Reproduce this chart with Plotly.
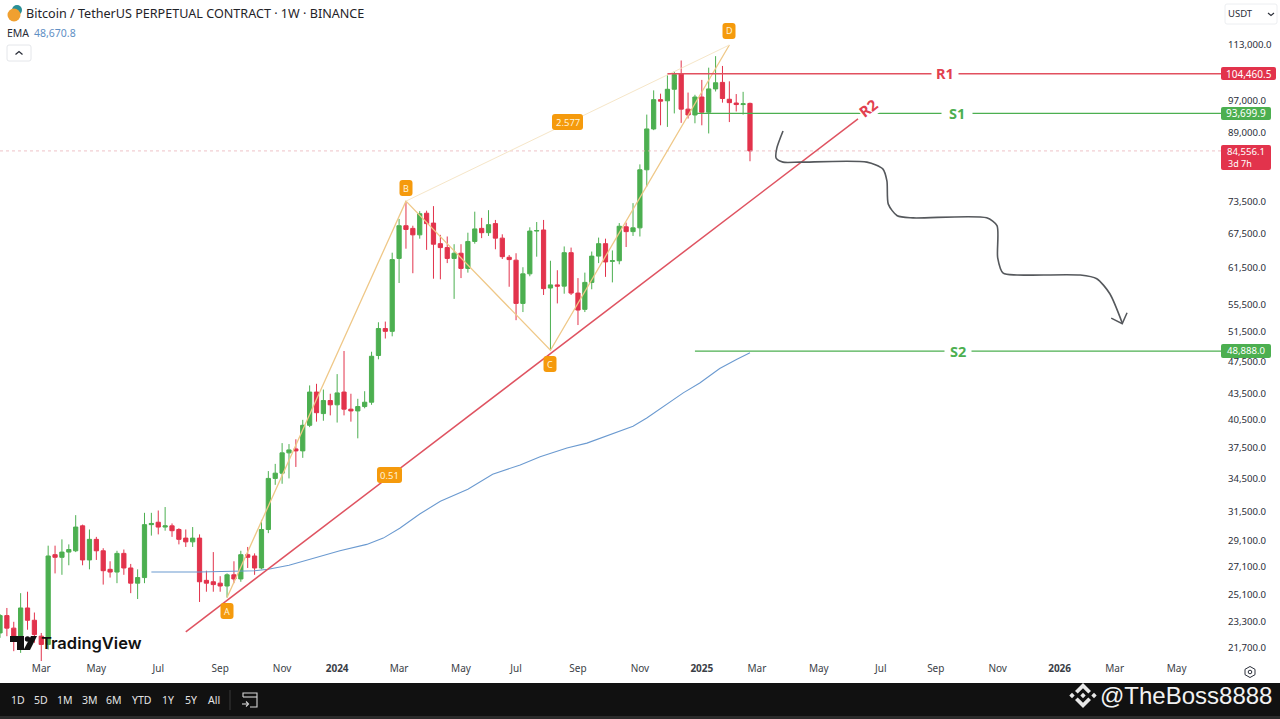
"""Weekly BTCUSDT perpetual chart with harmonic pattern, support/resistance and projected path."""

import math

import pandas as pd
import plotly.graph_objects as go

WIDTH, HEIGHT = 1280, 719
PLOT_W, PLOT_H = 1222, 660
PLOT_TOP = 1
FONT = "Noto Sans"
GREEN = "#4caf50"
RED = "#e2334c"
ORANGE = "#f59a0c"

LAST_WEEK = pd.Timestamp("2025-02-24")

# oldest week first, last entry is the running week
opens = [
    22600, 23700, 22900, 22100, 24200, 23400, 22400, 21900, 28000, 27800,
    28200, 28300, 30300, 27600, 29200, 28300, 26900, 26700, 28100, 27000,
    25900, 26300, 30400, 30600, 30200, 30300, 30000, 29300, 29000, 29300,
    26100, 26000, 25900, 25700, 26500, 26200, 28000, 27900, 27000, 30000,
    34500, 35000, 37000, 37400, 37200, 39900, 43700, 41200, 42700, 42200,
    43700, 41700, 41500, 42000, 42500, 48300, 52000, 51600, 63000, 68900,
    68400, 67200, 71300, 69400, 65600, 64900, 63000, 63900, 61300, 66000,
    68400, 67600, 69300, 66600, 63200, 62700, 55700, 60400, 67900, 68100,
    58100, 58600, 58400, 64000, 57300, 54800, 59000, 63400, 65600, 62500,
    62600, 68700, 67800, 68500, 80300, 89800, 97300, 97000, 100100, 104400,
    94800, 93300, 98000, 94000, 100200, 102000, 97400, 96400, 96000, 96300,
]
highs = [
    23800, 24200, 23300, 25200, 25300, 23900, 22600, 28700, 28700, 29200,
    28800, 31200, 30400, 30000, 29400, 28500, 27500, 28300, 28400, 27300,
    26900, 31400, 31400, 31600, 31900, 30500, 30100, 30000, 30200, 29600,
    26800, 28200, 26400, 26600, 27500, 28300, 28600, 28100, 30800, 35200,
    35900, 38000, 37900, 38400, 40500, 44500, 44700, 44000, 43500, 45900,
    48900, 43500, 42900, 43800, 48800, 52900, 53000, 64000, 70200, 73700,
    68900, 71700, 71800, 72700, 67200, 66900, 65500, 65500, 67600, 71600,
    70400, 71900, 70000, 67300, 63600, 63900, 61500, 68600, 69600, 70000,
    62600, 61000, 65100, 64900, 59700, 60600, 64200, 66700, 66500, 64400,
    69400, 69500, 73300, 81500, 93400, 99800, 98900, 104000, 105200, 108300,
    99200, 98600, 102700, 106200, 109600, 106700, 102300, 98800, 99400, 96500,
]
lows = [
    22300, 22400, 21500, 21400, 22800, 22000, 19600, 21600, 26600, 26500,
    27200, 28200, 27200, 26900, 27600, 25800, 26300, 25900, 26500, 25200,
    24800, 25900, 29500, 29600, 29900, 29400, 28800, 28600, 28600, 24600,
    25300, 25300, 25300, 24900, 25900, 26000, 27000, 26500, 26900, 29700,
    33900, 34000, 34500, 35600, 36500, 39700, 40300, 40400, 41000, 40200,
    41000, 40300, 38500, 41800, 42200, 47800, 50600, 50900, 58900, 64700,
    60500, 66500, 64500, 59600, 59500, 62200, 56400, 59700, 60600, 65600,
    66600, 67000, 64600, 62900, 58300, 53200, 54400, 60000, 63300, 57000,
    49000, 55700, 57200, 57000, 52500, 54400, 57900, 62200, 59900, 59000,
    62000, 65000, 67000, 66900, 76700, 89500, 90700, 90300, 93700, 91300,
    92400, 91200, 90700, 88700, 99500, 96500, 91500, 94200, 93400, 82200,
]
closes = [
    23700, 22900, 22100, 24200, 23400, 22500, 21900, 27900, 27800, 28200,
    28400, 30200, 27600, 29200, 28300, 26800, 26700, 28100, 27000, 25900,
    26300, 30400, 30500, 30200, 30300, 29900, 29200, 29000, 29300, 26000,
    25900, 25800, 25700, 26500, 26200, 28000, 27800, 27000, 30000, 34500,
    35000, 37000, 37300, 37200, 39900, 43700, 41300, 42700, 42200, 43600,
    41700, 41500, 42000, 42500, 48200, 52000, 51600, 62800, 68900, 68200,
    67200, 71200, 69300, 65500, 64900, 63000, 63900, 61300, 66000, 68300,
    67600, 69100, 66600, 63300, 62800, 55700, 60400, 67900, 68000, 58000,
    58600, 58400, 64000, 57300, 54700, 59000, 63400, 65600, 62400, 62600,
    68800, 67800, 68500, 80300, 89800, 97300, 96900, 100100, 104200, 94800,
    93300, 98000, 94000, 100200, 101900, 97600, 96500, 96000, 96200, 84556.1,
]

ema_weeks_ago = [
    87, 80, 72, 70, 67, 63.5, 59.6, 55.7, 53.3, 50.9, 48, 45, 41, 37.4,
    33.4, 30.5, 26.6, 23.7, 20.8, 17, 15, 12, 9.7, 7.3, 4.4, 1.9, 0,
]
ema_values = [
    26700, 26700, 26800, 26900, 27200, 27700, 28300, 28800, 29300, 30100,
    31300, 32400, 33500, 34900, 35800, 36600, 37500, 38000, 38800, 39800,
    40700, 42300, 43600, 44800, 46600, 47800, 48670.8,
]

# A, B, C, D swing points of the pattern
pattern_weeks_ago = [76, 50, 29, 3]
pattern_prices = [24900, 73700, 49000, 113000]
pattern_names = ["A", "B", "C", "D"]

r2_weeks_ago = [82, -15.7]
r2_prices = [22670, 92300]

r1_price = 104460.5
s1_price = 93699.9
s2_price = 48888.0
last_price = 84556.1

arrow_weeks_ago = [
    -4.8, -3.9, -3.8, -4.8, -7.3, -17, -19.3, -19.9, -20.1, -21.4,
    -23.7, -34.4, -35.9, -36, -36.8, -38.8, -48, -50.4, -52.3, -54.1,
]
arrow_prices = [
    89300, 85200, 82900, 82000, 82000, 82000, 80500, 77900, 73100, 70800,
    70400, 70400, 68900, 63100, 60500, 60200, 60200, 59600, 57200, 52800,
]
arrow_head_weeks_ago = [-52.5, -54.1, -54.8]
arrow_head_prices = [53500, 52700, 54300]

price_ticks = [
    113000, 97000, 89000, 73500, 67500, 61500, 55500, 51500, 47500, 43500,
    40500, 37500, 34500, 31500, 29100, 27100, 25100, 23300, 21700,
]
month_ticks = [
    "2023-03-06", "2023-05-01", "2023-07-03", "2023-09-04", "2023-11-06",
    "2024-01-01", "2024-03-04", "2024-05-06", "2024-07-01", "2024-09-02",
    "2024-11-04", "2025-01-06", "2025-03-03", "2025-05-05", "2025-07-07",
    "2025-09-01", "2025-11-03", "2026-01-05", "2026-03-02", "2026-05-04",
]
month_labels = [
    "Mar", "May", "Jul", "Sep", "Nov", "<b>2024</b>", "Mar", "May", "Jul", "Sep",
    "Nov", "<b>2025</b>", "Mar", "May", "Jul", "Sep", "Nov", "<b>2026</b>", "Mar", "May",
]
range_buttons = ["1D", "5D", "1M", "3M", "6M", "YTD", "1Y", "5Y", "All"]
range_button_x = [18, 41, 65, 90, 114, 142, 168, 191, 214]


def ago(weeks_back):
    return LAST_WEEK - pd.Timedelta(days=7 * weeks_back)


def xp(x):
    return x / PLOT_W


def yp(y):
    return (PLOT_H + PLOT_TOP - y) / PLOT_H


weeks = [ago(k) for k in range(len(opens) - 1, -1, -1)]

fig = go.Figure()

# candles as precomputed boxes so the body width can be set
BODY_MS = 4.3 * 86400000
for rising, color in [(True, GREEN), (False, RED)]:
    rows = [i for i in range(len(opens)) if (closes[i] >= opens[i]) == rising]
    fig.add_trace(go.Box(
        x=[weeks[i] for i in rows],
        q1=[min(opens[i], closes[i]) for i in rows],
        median=[closes[i] for i in rows],
        q3=[max(opens[i], closes[i]) for i in rows],
        lowerfence=[lows[i] for i in rows],
        upperfence=[highs[i] for i in rows],
        width=BODY_MS, whiskerwidth=0,
        line=dict(color=color, width=1), fillcolor=color,
    ))


def add_line(x, y, color, width, dash="solid", shape="linear", smoothing=1.0):
    fig.add_trace(go.Scatter(
        x=x, y=y, mode="lines",
        line=dict(color=color, width=width, dash=dash, shape=shape, smoothing=smoothing),
    ))


add_line([ago(k) for k in ema_weeks_ago], ema_values, "#6b9ad0", 1.1)
add_line([weeks[0], ago(-68.6)], [last_price, last_price], "#eab4ba", 0.8, dash="dot")

add_line([ago(k) for k in pattern_weeks_ago], pattern_prices, "#efc888", 1.3)
add_line([ago(pattern_weeks_ago[1]), ago(pattern_weeks_ago[3])],
         [pattern_prices[1], pattern_prices[3]], "#f6e6c8", 1)

add_line([ago(k) for k in r2_weeks_ago], r2_prices, "#df5361", 1.5)
add_line([ago(12), ago(-68.6)], [r1_price, r1_price], "#e2505f", 1.6)
add_line([ago(8), ago(-68.6)], [s1_price, s1_price], GREEN, 1.3)
add_line([ago(8), ago(-68.6)], [s2_price, s2_price], GREEN, 1.3)

add_line([ago(k) for k in arrow_weeks_ago], arrow_prices, "#55585c", 1.6, shape="spline", smoothing=0.7)
add_line([ago(k) for k in arrow_head_weeks_ago], arrow_head_prices, "#55585c", 1.5)

shapes = []
annotations = []


def text(x, y, label, size=11, color="#2a2e39", anchor="left", family=FONT, weight=None, **kw):
    font = dict(size=size, color=color, family=family)
    if weight:
        font["weight"] = weight
    annotations.append(dict(
        x=xp(x), y=yp(y), xref="paper", yref="paper", text=label, showarrow=False,
        xanchor=anchor, yanchor="middle", font=font, **kw,
    ))


def box(x0, y0, x1, y1, color, radius=2, line=None):
    r = radius
    # rounded corners as quadratic arcs in paper coordinates
    d = (
        f"M {xp(x0 + r)} {yp(y0)} L {xp(x1 - r)} {yp(y0)} Q {xp(x1)} {yp(y0)} {xp(x1)} {yp(y0 + r)} "
        f"L {xp(x1)} {yp(y1 - r)} Q {xp(x1)} {yp(y1)} {xp(x1 - r)} {yp(y1)} "
        f"L {xp(x0 + r)} {yp(y1)} Q {xp(x0)} {yp(y1)} {xp(x0)} {yp(y1 - r)} "
        f"L {xp(x0)} {yp(y0 + r)} Q {xp(x0)} {yp(y0)} {xp(x0 + r)} {yp(y0)} Z"
    )
    shapes.append(dict(
        type="path", path=d, xref="paper", yref="paper", fillcolor=color,
        line=dict(color=line or color, width=1 if line else 0), layer="above",
    ))


def path(points, fill=None, color=None, width=1):
    d = "M " + " L ".join(f"{xp(x)} {yp(y)}" for x, y in points)
    if fill:
        d += " Z"
    shapes.append(dict(
        type="path", path=d, xref="paper", yref="paper",
        fillcolor=fill or "rgba(0,0,0,0)",
        line=dict(color=color or fill, width=width if color else 0), layer="above",
    ))


def circle(cx, cy, r, fill=None, color=None, width=1):
    shapes.append(dict(
        type="circle", xref="paper", yref="paper",
        x0=xp(cx - r), x1=xp(cx + r), y0=yp(cy + r), y1=yp(cy - r),
        fillcolor=fill or "rgba(0,0,0,0)",
        line=dict(color=color or fill, width=width if color else 0), layer="above",
    ))


# header
circle(17, 10, 5, fill="#2a8f96")
circle(14, 15, 6.5, fill="#f0a030")
text(24, 14, "Bitcoin / TetherUS PERPETUAL CONTRACT · 1W · BINANCE", size=12.6, color="#1f2328")
text(5, 33, "EMA", size=10.5)
text(32, 33, "48,670.8", size=10.5, color="#5f8fc4")
box(7, 45, 31, 61, "#ffffff", line="#e4e6ea")
path([(15.5, 54.5), (19, 51.5), (22.5, 54.5)], color="#2a2e39", width=1.3)

box(1225, 4, 1277, 24, "#ffffff", line="#eceef1")
text(1226, 14, "USDT", size=9.5)
path([(1268, 13), (1271, 15.5), (1274, 13)], color="#2a2e39", width=1.1)

# pattern labels
label_centres = [(227, 611), (406, 188), (550, 364), (729, 31)]
for name, (cx, cy) in zip(pattern_names, label_centres):
    box(cx - 6.5, cy - 8, cx + 6.5, cy + 8, ORANGE, radius=3)
    text(cx, cy, name, size=9, color="#fff3d8", anchor="center")
box(377, 467, 402, 483, ORANGE, radius=3)
text(389.5, 475, "0.51", size=9.5, color="#fff3d8", anchor="center")
box(552, 114, 583, 130, ORANGE, radius=3)
text(567.5, 122, "2.577", size=9.5, color="#fff3d8", anchor="center")

# level labels, white background breaks the line
text(945, 73, "<b>R1</b>", size=14.5, color="#e2404f", anchor="center", bgcolor="#ffffff", borderpad=4)
text(957, 113, "<b>S1</b>", size=14.5, color=GREEN, anchor="center", bgcolor="#ffffff", borderpad=7)
text(958, 351, "<b>S2</b>", size=14.5, color=GREEN, anchor="center", bgcolor="#ffffff", borderpad=5)
text(868, 108, "<b>R2</b>", size=15, color="#e2404f", anchor="center", textangle=-38, bgcolor="#ffffff", borderpad=0)

# price tags on the scale
box(1221, 67, 1276, 80, RED)
text(1248.5, 73.5, "104,460.5", size=10, color="#ffffff", anchor="center")
box(1221, 107, 1271, 120, GREEN)
text(1246, 113.5, "93,699.9", size=10, color="#ffffff", anchor="center")
box(1221, 145, 1271, 170, RED)
text(1246, 151, "84,556.1", size=9.6, color="#ffffff", anchor="center", borderpad=0)
text(1227, 163.5, "3d 7h", size=9, color="#ffffff", borderpad=0)
box(1221, 344, 1271, 358, GREEN)
text(1246, 350.5, "48,888.0", size=9.6, color="#ffffff", anchor="center", borderpad=0)

# settings icon
path([(1250, 666.5), (1255, 669.3), (1255, 674.7), (1250, 677.5), (1245, 674.7), (1245, 669.3), (1250, 666.5)],
     color="#2a2e39", width=1)
circle(1250, 672, 1.8, color="#2a2e39", width=1)

# watermark
path([(10, 636), (24, 636), (24, 650), (17, 650), (17, 642), (10, 642)], fill="#111111")
circle(27.5, 639, 2.7, fill="#111111")
path([(31, 636), (37, 636), (30, 650), (23.5, 650)], fill="#111111")
text(39, 643, "TradingView", size=16.5, color="#111111", family="Inter", weight=600)

# bottom toolbar
box(0, 683, 1280, 716, "#111111", radius=0)
box(0, 716, 1280, 719, "#2b2b2b", radius=0)
for label, x in zip(range_buttons, range_button_x):
    text(x, 700, label, size=10.5, color="#e4e4e4", anchor="center")
path([(230, 690), (230, 710)], color="#3a3a3a", width=1)
path([(243, 697), (243, 693), (257, 693), (257, 707), (250, 707)], color="#d8d8d8", width=1.1)
path([(243, 697), (257, 697)], color="#d8d8d8", width=1.1)
path([(242, 704), (248, 704)], color="#d8d8d8", width=1.1)
path([(246, 701.5), (248.5, 704), (246, 706.5)], color="#d8d8d8", width=1.1)

# repost watermark
path([(1083, 683), (1091, 691), (1088.3, 693.6), (1083, 688.3), (1077.7, 693.6), (1075, 691)], fill="#e8e8e8")
path([(1083, 708), (1091, 700), (1088.3, 697.4), (1083, 702.7), (1077.7, 697.4), (1075, 700)], fill="#e8e8e8")
for cx in [1072, 1083, 1094]:
    path([(cx, 692.8), (cx + 2.7, 695.5), (cx, 698.2), (cx - 2.7, 695.5)], fill="#e8e8e8")
text(1098, 695, "@TheBoss8888", size=24, color="#f2f2f2", family="Liberation Sans")

fig.update_layout(
    width=WIDTH, height=HEIGHT,
    margin=dict(l=0, r=WIDTH - PLOT_W, t=PLOT_TOP, b=HEIGHT - PLOT_H - PLOT_TOP),
    paper_bgcolor="#ffffff", plot_bgcolor="#ffffff",
    showlegend=False, hovermode=False,
    shapes=shapes, annotations=annotations,
    font=dict(family=FONT, size=10.5, color="#2a2e39"),
    xaxis=dict(
        range=[ago(109.0), ago(-68.6)], type="date",
        showgrid=False, zeroline=False,
        tickmode="array", tickvals=month_ticks, ticktext=month_labels,
        ticks="", showline=False, tickfont=dict(size=10, color="#3a3e46"),
    ),
    yaxis=dict(
        type="log", side="right", range=[math.log10(20930), math.log10(127460)],
        showgrid=False, zeroline=False, showline=False, ticks="",
        tickmode="array", tickvals=price_ticks,
        ticktext=[f"{p:,.1f}" for p in price_ticks],
        tickfont=dict(size=9.6, color="#2a2e39"), ticklabelstandoff=5,
    ),
)

fig.write_html(
    "out.html",
    config={"displayModeBar": False},
    post_script="document.body.style.margin='0';document.body.style.overflow='hidden';",
)
